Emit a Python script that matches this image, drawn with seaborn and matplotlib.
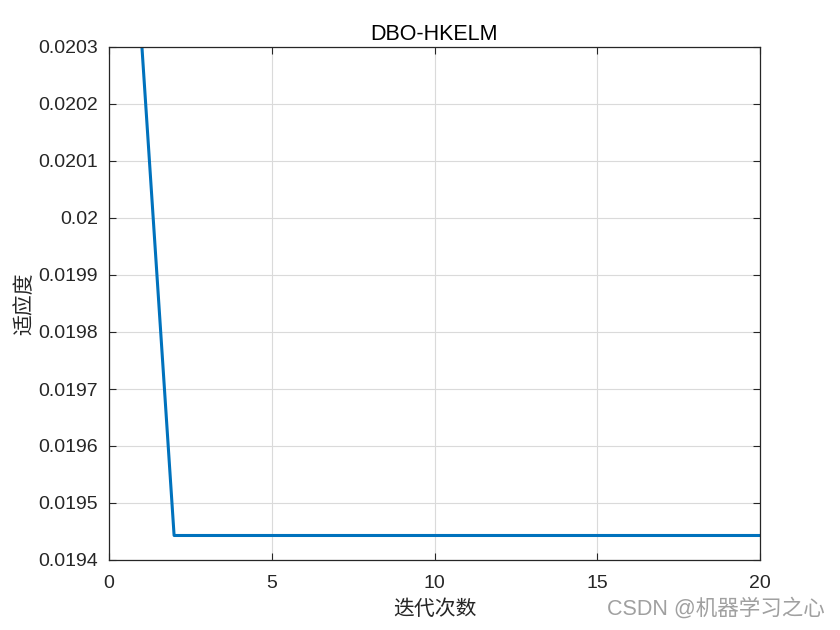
import matplotlib
matplotlib.use("Agg")
import matplotlib.pyplot as plt
import matplotlib.ticker as mticker
import pandas as pd
import seaborn as sns

# convergence curve
iterations = list(range(1, 21))
fitness = [0.02031] + [0.019443] * 19

y_ticks = [0.0194, 0.0195, 0.0196, 0.0197, 0.0198, 0.0199, 0.0200, 0.0201, 0.0202, 0.0203]
x_ticks = [0, 5, 10, 15, 20]

TITLE = "DBO-HKELM"
XLABEL = "迭代次数"
YLABEL = "适应度"
WATERMARK = "CSDN @机器学习之心"


def main() -> None:
    sns.set_theme(style="white")
    plt.rcParams["font.family"] = ["Liberation Sans", "DejaVu Sans"]
    cjk = ["Noto Sans CJK SC", "DejaVu Sans"]
    mixed = ["Liberation Sans", "Noto Sans CJK SC"]

    data = pd.DataFrame({"iter": iterations, "fit": fitness})

    fig = plt.figure(figsize=(8.4, 6.3), dpi=100)
    ax = fig.add_axes([109 / 840, 1 - 560 / 630, 651 / 840, 513 / 630])
    sns.lineplot(data=data, x="iter", y="fit", color="#0072BD", lw=2.2, ax=ax)

    ax.set_xlim(0, 20)
    ax.set_ylim(0.0194, 0.0203)
    ax.set_xticks(x_ticks)
    ax.set_yticks(y_ticks)
    ax.yaxis.set_major_formatter(mticker.FuncFormatter(lambda v, _: f"{v:.4f}".rstrip("0")))
    ax.grid(True, color="#dadada", lw=0.8)
    ax.tick_params(direction="in", length=5, width=0.8, colors="#262626", labelsize=14,
                   top=True, right=True, bottom=True, left=True)
    ax.tick_params(axis="x", pad=11)
    ax.tick_params(axis="y", pad=8)
    for s in ax.spines.values():
        s.set_color("#262626")
        s.set_linewidth(0.9)

    ax.set_title(TITLE, fontsize=15.5, color="black", pad=5)
    ax.set_xlabel(XLABEL, family=cjk, fontsize=15, color="#262626", labelpad=4)
    ax.set_ylabel(YLABEL, family=cjk, fontsize=15, color="#262626", labelpad=2)

    fig.text(825 / 840, 1 - 609 / 630, WATERMARK, family=mixed, fontsize=15.5,
             color="#a0a0a0", ha="right", va="center")

    fig.savefig("out.png", dpi=100)
    plt.close(fig)


if __name__ == "__main__":
    main()
